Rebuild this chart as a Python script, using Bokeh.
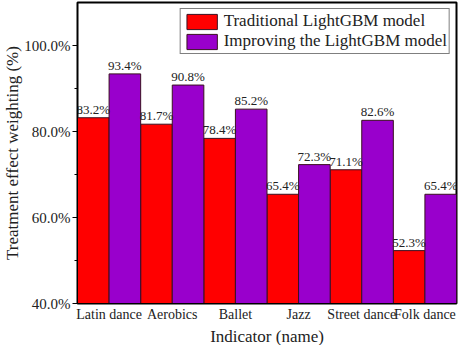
from bokeh.plotting import figure
from bokeh.models import (FactorRange, FixedTicker, PrintfTickFormatter, ColumnDataSource, Range1d,
                          Legend, LegendItem, Title)
from bokeh.transform import dodge
from bokeh.core.properties import value
from bokeh.embed import file_html
from bokeh.resources import INLINE

categories = ["Latin dance", "Aerobics", "Ballet", "Jazz", "Street dance", "Folk dance"]
traditional = [83.2, 81.7, 78.4, 65.4, 71.1, 52.3]
improved = [93.4, 90.8, 85.2, 72.3, 82.6, 65.4]
series_names = ["Traditional LightGBM model", "Improving the LightGBM model"]
y_ticks = [40, 60, 80, 100]
y_minor = [50, 70, 90]
y_min, y_max = 40, 110
x_title = "Indicator (name)"
y_title = "Treatment effect weighting (%)"

FONT = "Liberation Serif"
RED = "#ff0000"
PURPLE = "#9900cc"
EDGE = "#3a1020"
TXT = "#222222"

src = ColumnDataSource(dict(
    cat=categories,
    trad=traditional,
    imp=improved,
    trad_lbl=[f"{v:.1f}%" for v in traditional],
    imp_lbl=[f"{v:.1f}%" for v in improved],
))

p = figure(width=458, height=345, output_backend="svg", toolbar_location=None,
           x_range=FactorRange(*categories, range_padding=0),
           y_range=Range1d(y_min, y_max),
           min_border_left=0, min_border_right=2, min_border_top=2, min_border_bottom=0)

r1 = p.vbar(x=dodge("cat", -0.25, range=p.x_range), top="trad", bottom=y_min, width=0.5, source=src,
            fill_color=RED, line_color=EDGE, line_width=1)
r2 = p.vbar(x=dodge("cat", 0.25, range=p.x_range), top="imp", bottom=y_min, width=0.5, source=src,
            fill_color=PURPLE, line_color=EDGE, line_width=1)

p.text(x=dodge("cat", -0.25, range=p.x_range), y="trad", text="trad_lbl", source=src,
       text_align="center", text_baseline="bottom", text_font=value(FONT),
       text_font_size="13px", text_color=TXT, y_offset=-1)
p.text(x=dodge("cat", 0.25, range=p.x_range), y="imp", text="imp_lbl", source=src,
       text_align="center", text_baseline="bottom", text_font=value(FONT),
       text_font_size="13px", text_color=TXT, y_offset=-1)

p.grid.visible = False
p.outline_line_color = "black"
p.outline_line_width = 2

ya = p.yaxis[0]
ya.ticker = FixedTicker(ticks=y_ticks, minor_ticks=y_minor)
ya.formatter = PrintfTickFormatter(format="%.1f%%")
ya.major_label_text_font = FONT
ya.major_label_text_font_size = "15px"
ya.major_label_text_color = TXT
ya.major_label_standoff = 2
ya.major_tick_in = 0
ya.major_tick_out = 5
ya.minor_tick_in = 0
ya.minor_tick_out = 3
ya.axis_line_color = "black"

xa = p.xaxis[0]
xa.major_label_text_font = FONT
xa.major_label_text_font_size = "14px"
xa.major_label_text_line_height = 0.9
xa.major_label_text_color = TXT
xa.major_tick_line_color = None
xa.major_tick_out = 0
xa.major_tick_in = 0
xa.major_label_standoff = 3
xa.axis_line_color = "black"

p.add_layout(Title(text=x_title, align="center", text_font=FONT, text_font_size="17px",
                   text_line_height=0.9, text_font_style="normal", text_color=TXT,
                   standoff=0, offset=0), "below")
p.add_layout(Title(text=y_title, align="center", text_font=FONT, text_font_size="17px",
                   text_line_height=0.9, text_font_style="normal", text_color=TXT,
                   standoff=0, offset=0), "left")

legend = Legend(items=[LegendItem(label=series_names[0], renderers=[r1]),
                       LegendItem(label=series_names[1], renderers=[r2])],
                location="top_right")
legend.label_text_font = FONT
legend.label_text_font_size = "17px"
legend.label_text_color = TXT
legend.border_line_color = "black"
legend.border_line_width = 1
legend.glyph_width = 38
legend.glyph_height = 19
legend.spacing = 0
legend.padding = 2
legend.margin = 6
legend.label_standoff = 3
legend.label_height = 19
p.add_layout(legend)

open("out.html", "w").write(file_html(p, INLINE))
